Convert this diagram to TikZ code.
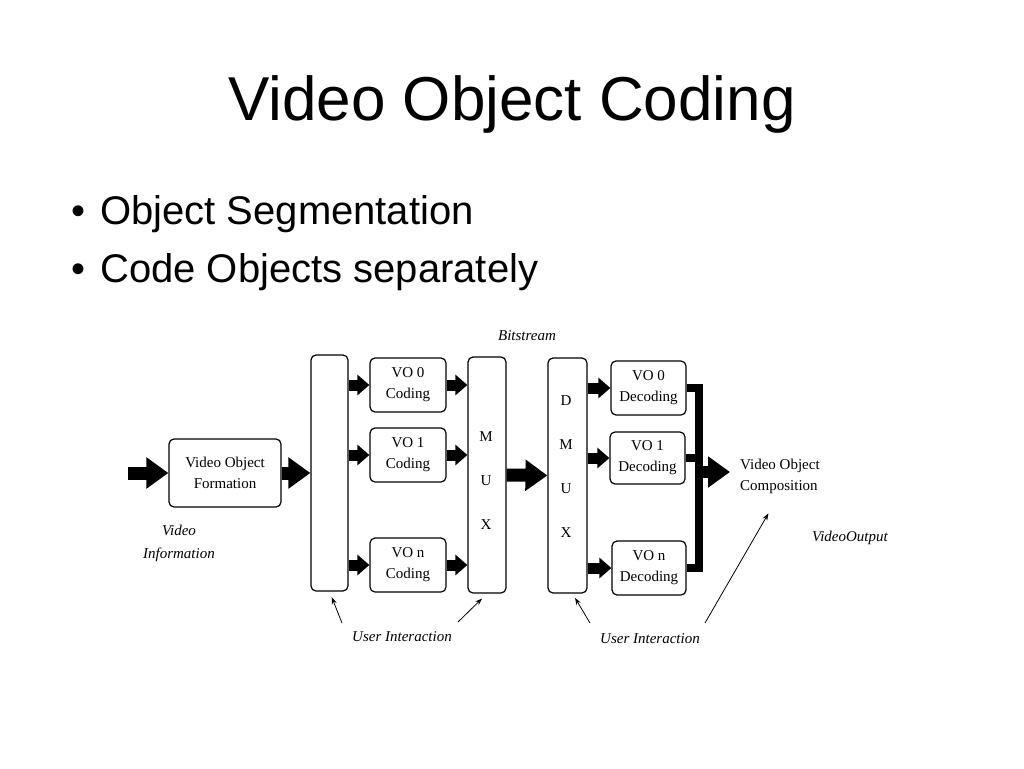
\documentclass[tikz,border=0pt]{standalone}
\usepackage{fontspec}
\setmainfont{Liberation Sans}
\newfontfamily\diag{Liberation Serif}
\usetikzlibrary{arrows.meta}
\tikzset{
  blk/.style={draw, line width=1.2pt, rounded corners=5pt, inner sep=0pt, align=center,
    font=\diag\fontsize{15}{21}\selectfont},
  lettr/.style={inner sep=0pt, align=center, font=\diag\fontsize{15}{44}\selectfont},
  lab/.style={inner sep=0pt, align=center, font=\diag\itshape\fontsize{15}{23}\selectfont},
  bigarrow/.style={line width=13pt, -{Triangle[length=22pt,width=30pt]}},
  smallarrow/.style={line width=11pt, -{Triangle[length=12pt,width=20pt]}},
  bus/.style={line width=8pt},
  thinarrow/.style={line width=0.8pt, -{Stealth[length=7pt,width=5pt]}}
}
\begin{document}
\begin{tikzpicture}[x=1pt,y=-1pt]
\useasboundingbox (0,0) rectangle (1024,768);
% title and bullets
\node[anchor=base, inner sep=0pt, font=\fontsize{62}{70}\selectfont] (title) at (512,120) {Video Object Coding};
\node[anchor=base, inner sep=0pt, font=\fontsize{40}{48}\selectfont] (b1) at (79,224) {•};
\node[anchor=base west, inner sep=0pt, font=\fontsize{40}{48}\selectfont] (t1) at (100,224) {Object Segmentation};
\node[anchor=base, inner sep=0pt, font=\fontsize{40}{48}\selectfont] (b2) at (79,282) {•};
\node[anchor=base west, inner sep=0pt, font=\fontsize{40}{48}\selectfont] (t2) at (100,282) {Code Objects separately};
% blocks
\node[blk, minimum width=112pt, minimum height=68pt] (form) at (225,473) {Video Object\\Formation};
\node[blk, minimum width=37pt, minimum height=236pt] (box1) at (329.5,473) {};
\node[blk, minimum width=76pt, minimum height=54pt] (vo0c) at (408,385) {VO 0\\Coding};
\node[blk, minimum width=76pt, minimum height=54pt] (vo1c) at (408,455) {VO 1\\Coding};
\node[blk, minimum width=76pt, minimum height=54pt] (vonc) at (408,565) {VO n\\Coding};
\node[blk, minimum width=38pt, minimum height=236pt] (mux) at (487,475) {};
\node[lettr] (muxt) at (486,481) {M\\U\\X};
\node[blk, minimum width=39pt, minimum height=235pt] (dmux) at (567.5,475.5) {};
\node[lettr] (dmuxt) at (566,467) {D\\M\\U\\X};
\node[blk, minimum width=75pt, minimum height=54pt] (vo0d) at (648.5,388) {VO 0\\Decoding};
\node[blk, minimum width=75pt, minimum height=52pt] (vo1d) at (647.5,458) {VO 1\\Decoding};
\node[blk, minimum width=74pt, minimum height=54pt] (vond) at (649,568) {VO n\\Decoding};
\node[inner sep=0pt, align=left, font=\diag\fontsize{15}{21}\selectfont, anchor=west] (comp) at (740,476) {Video Object\\Composition};
% labels
\node[lab] (bits) at (527,336) {Bitstream};
\node[lab] (vinfo) at (179,543) {Video\\Information};
\node[lab] (ui1) at (402,637) {User Interaction};
\node[lab] (ui2) at (650,639) {User Interaction};
\node[lab] (vout) at (850,538) {VideoOutput};
% thick arrows
\coordinate (in) at (128,473);
\draw[bigarrow] (in) -- (form.west);
\draw[bigarrow] (form.east) -- (box1.west);
\foreach \v in {vo0c,vo1c,vonc}{
  \draw[smallarrow] (box1.east |- \v.west) -- (\v.west);
  \draw[smallarrow] (\v.east) -- (\v.east -| mux.west);
}
\draw[bigarrow] (mux.east) -- (dmux.west);
\foreach \v in {vo0d,vo1d,vond}{
  \draw[smallarrow] (dmux.east |- \v.west) -- (\v.west);
}
\coordinate (bar) at (699,472);
\draw[bus] (vo0d.east) -| (bar) |- (vond.east);
\draw[bus] (vo1d.east) -- (vo1d.east -| bar);
\draw[bigarrow, line width=12pt, shorten >=10pt] ([xshift=-4pt]bar) -- (bar -| comp.west);
% thin arrows
\coordinate (u1a) at (342,623);
\coordinate (u1b) at (458,622);
\coordinate (u2a) at (590,623);
\coordinate (u2b) at (705,623);
\draw[thinarrow, shorten >=6pt] (u1a) -- (box1.south);
\draw[thinarrow, shorten >=7pt] (u1b) -- (mux.south);
\draw[thinarrow, shorten >=5pt] (u2a) -- ([xshift=5pt]dmux.south);
\draw[thinarrow, shorten >=23pt] (u2b) -- (comp.south);
\end{tikzpicture}
\end{document}
